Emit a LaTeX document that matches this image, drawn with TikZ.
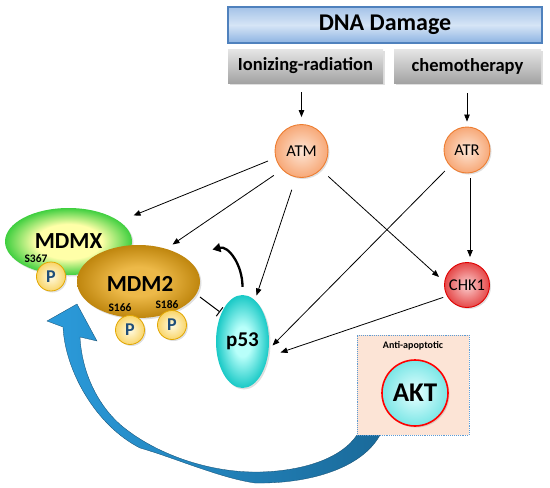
\documentclass[tikz,border=0pt]{standalone}
\usepackage{fontspec}
\setmainfont{Carlito}
\usetikzlibrary{arrows.meta,shadows,shapes.geometric}
\definecolor{dnaedge}{HTML}{4F81BD}
\definecolor{dnadark}{HTML}{8DB3E2}
\definecolor{dnalight}{HTML}{D6E5F6}
\definecolor{grayhi}{HTML}{E6E6E6}
\definecolor{graylo}{HTML}{A3A3A3}
\definecolor{orin}{HTML}{FDE6D6}
\definecolor{orout}{HTML}{F7A877}
\definecolor{oredge}{HTML}{ED7D31}
\definecolor{redin}{HTML}{FBD0D0}
\definecolor{redout}{HTML}{E54848}
\definecolor{rededge}{HTML}{E00000}
\definecolor{mxin}{HTML}{FFFFA8}
\definecolor{mxout}{HTML}{3FCF3F}
\definecolor{m2in}{HTML}{EDB948}
\definecolor{m2out}{HTML}{BF860E}
\definecolor{pin}{HTML}{FFFBE2}
\definecolor{pout}{HTML}{F9D56A}
\definecolor{pedge}{HTML}{E2A700}
\definecolor{ptext}{HTML}{1F4E79}
\definecolor{cyin}{HTML}{B8FFFA}
\definecolor{cyout}{HTML}{19C9C6}
\definecolor{aktin}{HTML}{E6FFFF}
\definecolor{aktout}{HTML}{7AE6E6}
\definecolor{peach}{HTML}{FCE4D6}
\definecolor{dotblue}{HTML}{5B9BD5}
\definecolor{bluea}{HTML}{2B9BDB}
\definecolor{blueb}{HTML}{1A6A9A}
\pgfdeclareradialshading{mxshade}{\pgfpoint{0bp}{0bp}}{color(0bp)=(mxin); color(13bp)=(mxin); color(25bp)=(mxout); color(50bp)=(mxout)}
\pgfdeclareradialshading{mtwoshade}{\pgfpoint{0bp}{0bp}}{color(0bp)=(m2in); color(10bp)=(m2in); color(25bp)=(m2out); color(50bp)=(m2out)}
\pgfdeclareradialshading{cyshade}{\pgfpoint{0bp}{0bp}}{color(0bp)=(cyin); color(8bp)=(cyin); color(25bp)=(cyout); color(50bp)=(cyout)}
\begin{document}
\begin{tikzpicture}[x=1pt,y=-1pt,
  arr/.style={-{Triangle[length=7pt,width=5.5pt]}, line width=0.8pt},
  shad/.style={drop shadow={opacity=0.25,shadow xshift=1.5pt,shadow yshift=-1.5pt}},
  graybox/.style={rectangle, inner sep=0pt, top color=grayhi, bottom color=graylo,
     font=\bfseries\fontsize{18.5}{20}\selectfont, shad},
  kin/.style={circle, inner sep=0pt, draw=oredge, line width=0.9pt,
     inner color=orin, outer color=orout, font=\fontsize{16.5}{18}\selectfont, shad},
  pball/.style={circle, inner sep=0pt, minimum size=29pt, draw=pedge, line width=0.8pt,
     inner color=pin, outer color=pout, text=ptext, font=\bfseries\fontsize{18}{20}\selectfont, shad},
  slabel/.style={inner sep=0pt, font=\bfseries\fontsize{11.5}{12}\selectfont}
]
\useasboundingbox (0,0) rectangle (550,488);

% big blue curved arrow
\path[left color=bluea, right color=blueb, draw=blueb!70!black, line width=0.3pt]
  (380,435) .. controls (362,468) and (310,484) .. (255,483)
  .. controls (220,478) and (175,458) .. (140,448)
  .. controls (95,425) and (65,370) .. (63,327)
  -- (47,321) -- (77,304) -- (97,341) -- (80,337)
  .. controls (82,375) and (100,410) .. (127,430)
  .. controls (160,455) and (210,473) .. (260,472)
  .. controls (300,471) and (340,460) .. (357,435) -- cycle;

% top boxes
\node[rectangle, inner sep=0pt, minimum width=314pt, minimum height=36pt,
  draw=dnaedge, line width=1.3pt, top color=dnadark!80!white, bottom color=dnadark,
  middle color=dnalight, font=\bfseries\fontsize{24}{26}\selectfont] (dna) at (385,25) {DNA Damage};
\node[graybox, minimum width=155pt, minimum height=34pt] (ion) at (305.5,66) {Ionizing-radiation};
\node[graybox, minimum width=147pt, minimum height=34pt] (chemo) at (467.5,66) {chemotherapy};

% kinases
\node[kin, minimum size=53pt] (ATM) at (301.5,151) {ATM};
\node[kin, minimum size=46pt] (ATR) at (467,150) {ATR};
\node[circle, inner sep=0pt, minimum size=45pt, draw=rededge, line width=0.9pt,
  inner color=redin, outer color=redout, font=\fontsize{16.5}{18}\selectfont, shad] (CHK1) at (467,285) {CHK1};

% MDMX / MDM2
\node[ellipse, inner sep=0pt, minimum width=127pt, minimum height=67pt,
  shading=mxshade, font=\bfseries\fontsize{23}{24}\selectfont, shad] (MDMX) at (68.5,241.5) {MDMX};
\node[slabel] (s367) at (36,258.5) {S367};
\node[pball] (P1) at (51,276.5) {P};
\node[ellipse, inner sep=0pt, minimum width=123pt, minimum height=73pt,
  shading=mtwoshade, shad] (MDM2) at (138.5,281.5) {};
\node[inner sep=0pt, font=\bfseries\fontsize{23}{24}\selectfont] (m2t) at (140,284) {MDM2};
\node[slabel] (s166) at (120,308) {S166};
\node[slabel] (s186) at (167,305) {S186};
\node[pball] (P2) at (130,330) {P};
\node[pball] (P3) at (172,325) {P};

% p53
\node[ellipse, inner sep=0pt, minimum width=53pt, minimum height=93pt,
  shading=cyshade, font=\bfseries\fontsize{21}{23}\selectfont, shad] (p53) at (242.5,341.5) {p53};

% AKT box
\node[rectangle, inner sep=0pt, minimum width=112pt, minimum height=100pt,
  fill=peach, draw=dotblue, densely dotted, line width=0.9pt] (aktbox) at (413,385) {};
\node[inner sep=0pt, font=\bfseries\fontsize{10}{12}\selectfont] (anti) at (413,346) {Anti-apoptotic};
\node[circle, inner sep=0pt, minimum size=66pt, draw=red, line width=1.6pt,
  inner color=aktin, outer color=aktout, font=\bfseries\fontsize{27}{29}\selectfont, shad] (AKT) at (415,393) {AKT};

% arrows from stimuli
\draw[arr, shorten <=9pt, shorten >=7pt] (ion.south -| ATM.north) -- (ATM.north);
\draw[arr, shorten <=10pt, shorten >=5pt] (chemo.south -| ATR.north) -- (ATR.north);

% ATM targets
\draw[arr, shorten <=8pt] (ATM.195) -- ([shift={(65,-26)}]MDMX.center);
\draw[arr, shorten <=10pt] (ATM.224) -- ([shift={(34,-37)}]MDM2.center);
\draw[arr, shorten <=13pt] (ATM.258) -- ([shift={(14,-46)}]p53.center);
\draw[arr, shorten <=10pt] (ATM.316) -- ([shift={(-28,-8)}]CHK1.center);

% ATR targets
\draw[arr, shorten <=5pt, shorten >=5pt] (ATR.south -| 470,0) -- (CHK1.north -| 470,0);
\draw[arr, shorten <=7pt] (ATR.223) -- ([shift={(30,4)}]p53.center);

% CHK1 -> p53
\draw[arr, shorten <=4pt] (CHK1.209) -- ([shift={(38,11)}]p53.center);

% MDM2 inhibits p53
\draw[line width=1pt, -{Bar[width=11pt]}] ([shift={(61.5,15.5)}]MDM2.center) -- ([shift={(-22.5,-29.5)}]p53.center);

% p53 feedback to MDM2
\draw[line width=2.3pt, -{Triangle[length=8pt,width=9pt]}]
  ([yshift=8pt]p53.north) .. controls +(0,-22) and +(16,-4) .. ([shift={(74,-32)}]MDM2.center);
\end{tikzpicture}
\end{document}
